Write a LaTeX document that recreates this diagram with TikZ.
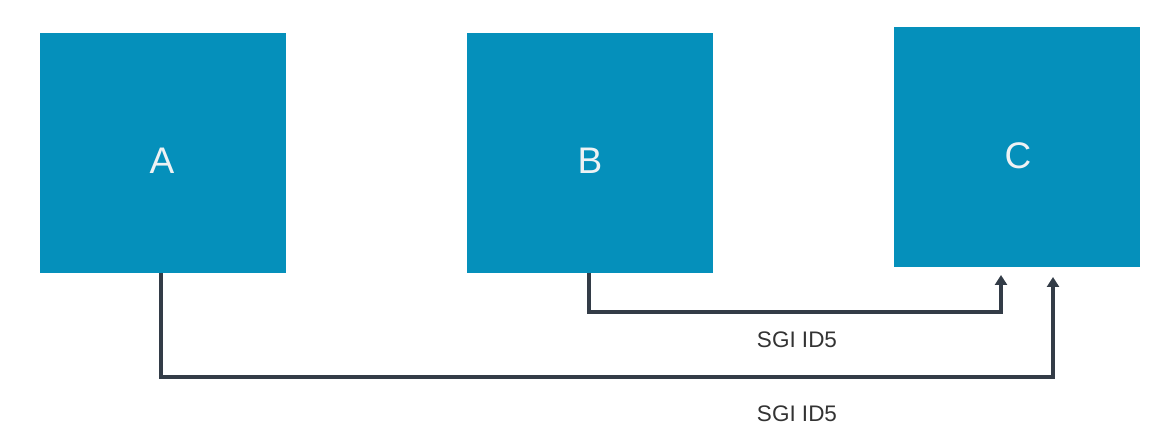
\documentclass[tikz,border=0pt]{standalone}
\usepackage{fontspec}
\setmainfont{Liberation Sans}
\usetikzlibrary{arrows.meta}
\definecolor{boxblue}{HTML}{0590BB}
\definecolor{linedark}{HTML}{333C47}
\definecolor{lettercol}{HTML}{EEF2F4}
\definecolor{labelcol}{HTML}{333333}
\tikzset{
  bluebox/.style={fill=boxblue, draw=none, minimum width=246pt, minimum height=240pt, inner sep=0pt,
    text=lettercol, font=\fontsize{37}{40}\selectfont},
  conn/.style={draw=linedark, line width=4.3pt, -{Triangle[width=12pt,length=10pt]}},
  lbl/.style={text=labelcol, font=\fontsize{22.5}{26}\selectfont, inner sep=0pt}
}
\begin{document}
\begin{tikzpicture}[x=1pt,y=-1pt]
\useasboundingbox (0,0) rectangle (1156,446);
\node[bluebox] (A) at (162.5,152.8) {};
\node[bluebox] (B) at (590,152.8) {};
\node[bluebox] (C) at (1017,147) {};
\node[text=lettercol, font=\fontsize{37}{40}\selectfont, inner sep=0pt] (tA) at (162,161) {A};
\node[text=lettercol, font=\fontsize{37}{40}\selectfont, inner sep=0pt] (tB) at (590,161) {B};
\node[text=lettercol, font=\fontsize{37}{40}\selectfont, inner sep=0pt] (tC) at (1018,156) {C};
\coordinate (pA) at (161,272.8);
\coordinate (pB) at (589.3,272.8);
\coordinate (cA) at (1053,277);
\coordinate (cB) at (1001,275);
\draw[conn] (pA) -- (161,377) -| (cA);
\draw[conn] (pB) -- (589.3,312) -| (cB);
\node[lbl] (l1) at (797,340) {SGI ID5};
\node[lbl] (l2) at (797,414) {SGI ID5};
\end{tikzpicture}
\end{document}
